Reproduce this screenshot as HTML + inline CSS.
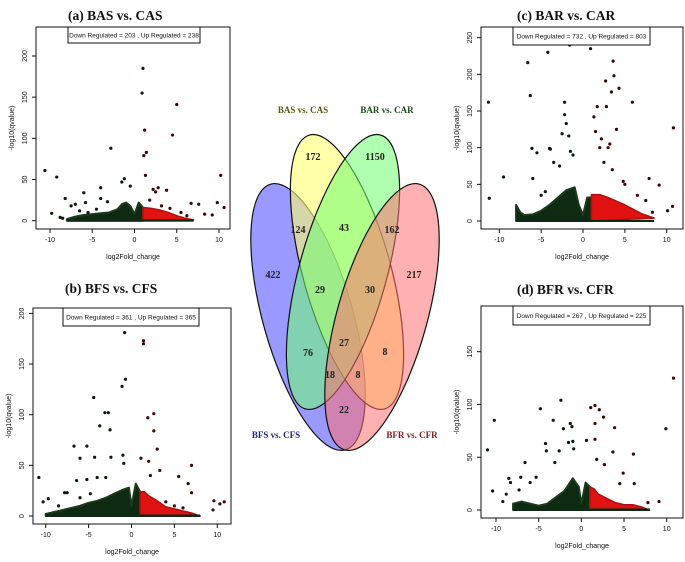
<!DOCTYPE html>
<html><head><meta charset="utf-8">
<style>
html,body{margin:0;padding:0;background:#fff;}
svg{display:block;}
text{font-family:"Liberation Sans",sans-serif;}
.ttl{font-family:"Liberation Serif",serif;font-weight:bold;font-size:13.5px;}
.vl{font-family:"Liberation Serif",serif;font-weight:bold;font-size:9px;}
.vn{font-family:"Liberation Serif",serif;font-weight:bold;font-size:10px;fill:#222;}
</style></head>
<body>
<svg id="fig" width="685" height="562" viewBox="0 0 685 562" xmlns="http://www.w3.org/2000/svg">
<g id="venn">
  <ellipse cx="308" cy="317" rx="45" ry="138" transform="rotate(-15.7 308 317)" fill="#7f7fff" fill-opacity="0.8" stroke="#111" stroke-width="1.2"/>
  <ellipse cx="347" cy="272" rx="44" ry="142" transform="rotate(-15.3 347 272)" fill="#ffff70" fill-opacity="0.6" stroke="#111" stroke-width="1.2"/>
  <ellipse cx="343" cy="272" rx="44" ry="142" transform="rotate(15.3 343 272)" fill="#70ff70" fill-opacity="0.55" stroke="#111" stroke-width="1.2"/>
  <ellipse cx="382" cy="317" rx="45" ry="138" transform="rotate(15.7 382 317)" fill="#ff7070" fill-opacity="0.55" stroke="#111" stroke-width="1.2"/>
  <text class="vl" x="303" y="113" text-anchor="middle" fill="#5a5a10">BAS vs. CAS</text>
  <text class="vl" x="387" y="113" text-anchor="middle" fill="#1a4a1a">BAR vs. CAR</text>
  <text class="vl" x="276" y="438" text-anchor="middle" fill="#22228a">BFS vs. CFS</text>
  <text class="vl" x="412" y="438" text-anchor="middle" fill="#8a1a1a">BFR vs. CFR</text>
</g>
</svg>
<script>
// ---- Venn counts ----
const vennCounts = [172,1150,124,43,162,422,29,30,217,76,27,8,18,8,22];
const vennPosX = [313,375,298,344,392,273,320,370,414,308,344,385,330,358,344];
const vennPosY = [160,160,233,231,233,278,293,293,278,356,346,355,378,378,413];

// ---- Panel (a) BAS vs. CAS ----
const aPtsX = [-10.6,-9.2,-9.8,-8.2,-2.8,0.9,1.0,1.2,1.4,1.1,1.3,4.5,5.0,10.2,10.6,9.8,-4,-4,-6,-1.2,-1.5,-0.5,3.8,2.8,2.2,6.7,7.6,8.3,9.2,-7.5,-7,-8.8,-8.5,-5.8,-3.2,1.8,2.5,4.2,-6.5,-5.5,-4.5,3.2,5.5,6.2];
const aPtsY = [61,53,9,27,88,155,185,110,83,79,55,104,141,55,16,22,40,27,34,51,47,42,37,40,38,21,20,8,7,18,20,4,3,22,23,25,35,15,12,10,14,18,10,6];
const aGreenX = [-8,-7,-6,-5,-4,-3,-2,-1.5,-1,-0.5,0,0.5,1];
const aGreenY = [2,5,7,8,9,10,14,20,22,18,8,22,16];
const aRedX = [1,1,2,3,4,5,6,7];
const aRedY = [0,16,15,13,10,6,3,1];
const aYTicks = [0,50,100,150,200];

// ---- Panel (b) BFS vs. CFS ----
const bPtsX = [-10.8,-10.3,-9.7,-7.8,-7.5,-6.7,-6.4,-6,-5.2,-5.2,-4.4,-4.3,-3.7,-3.1,-2.7,-2.5,-2.4,-1.1,-0.7,-0.8,-1,-0.9,1.4,1.4,1.1,1.9,2.0,2.6,2.6,3.0,3.3,5.5,7.0,6.6,7.0,9.6,10.8,10.3,9.5,-3,-4,1.7,2.2,-8.5,-6,-4.8,4,5,6];
const bPtsY = [38,14,17,23,23,69,35,57,69,36,117,58,89,102,102,85,58,128,135,181,60,52,173,170,57,97,54,101,84,66,45,39,50,32,23,15,14,12,6,38,38,192,40,10,18,22,14,10,8];
const bGreenX = [-10,-8,-6,-5,-4,-3,-2,-1,-0.3,0,0.5,1];
const bGreenY = [2,6,10,13,15,18,22,26,28,10,32,24];
const bRedX = [1,1,1.5,2,3,4,5,6,7,8];
const bRedY = [0,24,24,20,15,9,7,5,3,0];
const bYTicks = [0,50,100,150,200];

// ---- Panel (c) BAR vs. CAR ----
const cPtsX = [-11.3,-11.2,-9.5,-6.6,-6.3,-6.1,-5.5,-4.2,-4.0,-3.9,-1.6,-2.2,-2.2,-2.0,-2.5,-1.7,0.9,3.6,3.7,2.7,4.3,3.4,5.9,2.8,1.7,1.3,4,10.8,9.1,7.9,10.1,10.7,-6,-5,-4.5,-3.5,-1.5,2,3,2.5,3.5,5,-2.8,-1.2,1.5,2.2,3.2,4.8,6.5,7.5,8.3];
const cPtsY = [162,31,60,216,171,99,93,230,99,98,240,162,145,133,119,116,235,218,198,191,181,176,162,156,156,142,125,127,49,58,14,20,58,35,40,80,95,100,100,80,70,50,75,90,122,112,105,54,35,28,12];
const cGreenX = [-8,-7.5,-7,-6,-5,-4,-3,-2,-1,-0.5,0,0.5,1];
const cGreenY = [22,12,8,9,14,22,32,42,46,22,8,32,32];
const cRedX = [1,1,2,3,4,5,6,7,8.5];
const cRedY = [0,36,36,32,27,22,16,10,4];
const cYTicks = [0,50,100,150,200,250];

// ---- Panel (d) BFR vs. CFR ----
const dPtsX = [-11,-10.2,-10.4,-9.2,-8.8,-8.5,-8.3,-7.3,-7.1,-6.6,-6,-5.3,-4.8,-4.2,-4.1,-3.3,-3.1,-2.4,-2.1,-1.3,-1.1,-1.5,-1,-0.9,-2.6,1.1,1.6,2.1,2.6,1.6,3.9,1.6,0.6,3.7,6.1,4.9,6.2,10.8,9.9,9.1,7.8,1.8,2.7,4.5];
const dPtsY = [57,85,18,8,15,30,26,19,31,45,26,31,96,63,56,85,45,104,77,82,79,64,65,58,56,97,99,95,88,82,78,67,66,55,53,35,25,125,77,8,7,48,43,25];
const dGreenX = [-8,-7,-6,-5,-4,-3,-2,-1,-0.3,0,0.5,1];
const dGreenY = [6,8,6,4,6,12,18,30,22,6,26,22];
const dRedX = [1,1,1.5,2,3,4,5,6,7,8];
const dRedY = [0,22,20,15,11,7,5,5,3,0];
const dYTicks = [0,50,100,150];

const xTicks = [-10,-5,0,5,10];
const NS = "http://www.w3.org/2000/svg";
const fig = document.getElementById('fig');
const venn = document.getElementById('venn');

function mk(tag, attrs, parent){
  const e = document.createElementNS(NS, tag);
  for (const k in attrs) e.setAttribute(k, attrs[k]);
  parent.appendChild(e);
  return e;
}

vennCounts.forEach((v,i)=>{
  const t = mk('text',{x:vennPosX[i], y:vennPosY[i], 'text-anchor':'middle', class:'vn'}, venn);
  
  
  t.textContent = v;
});

function panel(id, title, legend, geo, ptsX, ptsY, gX, gY, rX, rY, yTicks){
  const g = mk('g', {}, fig);
  
  
  const sx = v => geo.x0 + (v + 10) * (geo.x10 - geo.x0) / 20;
  const sy = v => geo.y0 - v * geo.k;
  const t = mk('text', {x: geo.tx, y: geo.ty, class: 'ttl', fill:'#111'}, g);
  
  
  t.textContent = title;
  let pg = gX.map((x,i)=>sx(x)+','+sy(gY[i])).join(' ') + ' ' + sx(gX[gX.length-1])+','+sy(0) + ' ' + sx(gX[0])+','+sy(0);
  const gc = mk('polygon', {points: pg, fill:'#0f2a12', stroke:'#1c3a1c', 'stroke-width':2, 'stroke-linejoin':'round'}, g);
  
  
  let pr = rX.map((x,i)=>sx(x)+','+sy(rY[i])).join(' ');
  const rc = mk('polygon', {points: pr, fill:'#e01212', stroke:'#b01010', 'stroke-width':1.5, 'stroke-linejoin':'round'}, g);
  
  
  mk('rect', {x: sx(gX[0]), y: sy(1.5), width: sx(rX[rX.length-1]) - sx(gX[0]), height: sy(0)-sy(1.5)+1, fill:'#0f2a12'}, g);
  ptsX.forEach((x,i)=>{
    const c = mk('circle', {cx: sx(x), cy: sy(ptsY[i]), r: 1.6, fill: x >= 1 ? '#3a0606' : '#0a1a0a'}, g);
    
    
  });
  const b = mk('rect', {x: geo.bl, y: geo.bt, width: geo.br-geo.bl, height: geo.bb-geo.bt, fill:'none', stroke:'#111', 'stroke-width':1}, g);
  
  
  const lb = mk('rect', {x: geo.lx, y: geo.bt, width: geo.lw, height: geo.lh, fill:'#fff', stroke:'#111', 'stroke-width':1}, g);
  
  
  const lt = mk('text', {x: geo.lx + geo.lw/2, y: geo.bt + geo.lh/2 + 2.5, 'text-anchor':'middle', 'font-size':6.5, fill:'#111'}, g);
  
  
  lt.textContent = legend;
  xTicks.forEach(v=>{
    mk('line', {x1: sx(v), x2: sx(v), y1: geo.bb, y2: geo.bb+4, stroke:'#111'}, g);
    const tl = mk('text', {x: sx(v), y: geo.bb+13, 'text-anchor':'middle', 'font-size':7, fill:'#111'}, g);
    
    
    tl.textContent = v;
  });
  yTicks.forEach(v=>{
    mk('line', {x1: geo.bl-4, x2: geo.bl, y1: sy(v), y2: sy(v), stroke:'#111'}, g);
    const xx = geo.bl - 9, yy = sy(v);
    const tl = mk('text', {x: xx, y: yy, 'text-anchor':'middle', 'font-size':7, fill:'#111', transform:'rotate(-90 '+xx+' '+yy+')'}, g);
    
    
    tl.textContent = v;
  });
  const xl = mk('text', {x:(geo.bl+geo.br)/2, y: geo.bb+30, 'text-anchor':'middle', 'font-size':7, fill:'#111'}, g);
  
  
  xl.textContent = 'log2Fold_change';
  const yx = geo.bl - 22, yyc = (geo.bt+geo.bb)/2;
  const yl = mk('text', {x: yx, y: yyc, 'text-anchor':'middle', 'font-size':7, fill:'#111', transform:'rotate(-90 '+yx+' '+yyc+')'}, g);
  
  
  yl.textContent = '-log10(qvalue)';
}

panel('a', '(a)  BAS vs. CAS', 'Down Regulated = 203 , Up Regulated = 238',
  {x0:50, x10:219, y0:220.7, k:0.8235, bl:36, br:230, bt:27, bb:229, lx:68, lw:132, lh:16, tx:68, ty:20},
  aPtsX, aPtsY, aGreenX, aGreenY, aRedX, aRedY, aYTicks);
panel('b', '(b)  BFS vs. CFS', 'Down Regulated = 361 , Up Regulated = 365',
  {x0:45.7, x10:217.3, y0:516, k:1.013, bl:33, br:231, bt:308, bb:524, lx:63, lw:136, lh:18, tx:65, ty:293},
  bPtsX, bPtsY, bGreenX, bGreenY, bRedX, bRedY, bYTicks);
panel('c', '(c)  BAR vs. CAR', 'Down Regulated = 732 , Up Regulated = 803',
  {x0:499.3, x10:666.7, y0:221, k:0.7333, bl:481, br:683, bt:27, bb:229, lx:513, lw:137, lh:18, tx:517, ty:20},
  cPtsX, cPtsY, cGreenX, cGreenY, cRedX, cRedY, cYTicks);
panel('d', '(d)  BFR vs. CFR', 'Down Regulated = 267 , Up Regulated = 225',
  {x0:496, x10:666.7, y0:510, k:1.0553, bl:481, br:683, bt:306, bb:518, lx:513, lw:137, lh:19, tx:517, ty:294},
  dPtsX, dPtsY, dGreenX, dGreenY, dRedX, dRedY, dYTicks);
</script>
</body></html>
